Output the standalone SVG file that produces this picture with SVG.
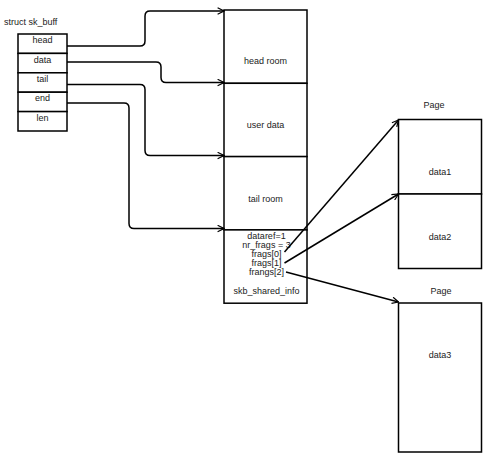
<svg xmlns="http://www.w3.org/2000/svg" width="500" height="465" viewBox="0 0 500 465">
<style>
text{font-family:"Liberation Sans",Arial,sans-serif;font-size:9px;fill:#222}
.c{text-anchor:middle}
.box{fill:#fff;stroke:#000;stroke-width:1.5}
.ln{fill:none;stroke:#000;stroke-width:1.5}
</style>
<defs>
<marker id="ah" viewBox="0 0 10 10" refX="9" refY="5" markerWidth="8" markerHeight="8" markerUnits="userSpaceOnUse" orient="auto">
<path d="M1,1 L9,5 L1,9" fill="none" stroke="#000" stroke-width="1.5"/>
</marker>
</defs>
<rect width="500" height="465" fill="#fff"/>
<g id="skbuff">
<text x="4" y="25">struct sk_buff</text>
<rect class="box" x="18" y="34" width="49" height="19.4"/>
<rect class="box" x="18" y="53.4" width="49" height="19.4"/>
<rect class="box" x="18" y="72.8" width="49" height="19.4"/>
<rect class="box" x="18" y="92.2" width="49" height="19.4"/>
<rect class="box" x="18" y="111.6" width="49" height="19.4"/>
<text class="c" x="42.5" y="43">head</text>
<text class="c" x="42.5" y="62.5">data</text>
<text class="c" x="42.5" y="81.5">tail</text>
<text class="c" x="42.5" y="101">end</text>
<text class="c" x="42.5" y="120.5">len</text>
</g>
<g id="buffer">
<rect class="box" x="224" y="10" width="83" height="73.3"/>
<rect class="box" x="224" y="83.3" width="83" height="73.3"/>
<rect class="box" x="224" y="156.6" width="83" height="73.3"/>
<rect class="box" x="224" y="229.9" width="83" height="73.3"/>
<text class="c" x="265.5" y="64">head room</text>
<text class="c" x="265.5" y="128">user data</text>
<text class="c" x="265.5" y="202">tail room</text>
<text class="c" x="266.5" y="239">dataref=1</text>
<text class="c" x="266.5" y="248">nr_frags = 3</text>
<text class="c" x="266.5" y="257">frags[0]</text>
<text class="c" x="266.5" y="266">frags[1]</text>
<text class="c" x="266.5" y="275">frangs[2]</text>
<text class="c" x="266.5" y="294">skb_shared_info</text>
</g>
<g id="page1">
<text class="c" x="434" y="108">Page</text>
<rect class="box" x="398.5" y="119.5" width="83" height="74.5"/>
<rect class="box" x="398.5" y="194" width="83" height="74.5"/>
<text class="c" x="440" y="175">data1</text>
<text class="c" x="440" y="240">data2</text>
</g>
<g id="page2">
<text class="c" x="441" y="294">Page</text>
<rect class="box" x="398.5" y="303" width="83" height="149"/>
<text class="c" x="440" y="358">data3</text>
</g>
<g id="connectors">
<path class="ln" marker-end="url(#ah)" d="M67,46 H140 Q145,46 145,41 V16 Q145,11 150,11 H224"/>
<path class="ln" marker-end="url(#ah)" d="M67,62 H156 Q161,62 161,67 V77.5 Q161,82.5 166,82.5 H224"/>
<path class="ln" marker-end="url(#ah)" d="M67,84.5 H140 Q145,84.5 145,89.5 V150.5 Q145,155.5 150,155.5 H224"/>
<path class="ln" marker-end="url(#ah)" d="M67,103 H124 Q129,103 129,108 V223.5 Q129,228.5 134,228.5 H224"/>
<path class="ln" marker-end="url(#ah)" d="M284.5,252 L398.5,120"/>
<path class="ln" marker-end="url(#ah)" d="M284.5,263 L398.5,194"/>
<path class="ln" marker-end="url(#ah)" d="M286,272 L398.5,302"/>
</g>
</svg>
